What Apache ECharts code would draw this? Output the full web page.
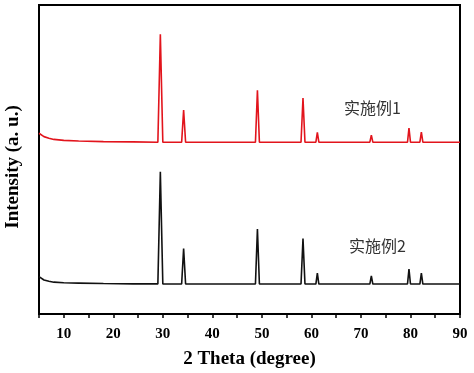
<!DOCTYPE html>
<html><head><meta charset="utf-8">
<script src="https://cdn.jsdelivr.net/npm/echarts@6/dist/echarts.min.js"></script>
<style>html,body{margin:0;padding:0;background:#fff}#c{width:474px;height:373px}</style>
</head><body><div id="c"></div>
<script>
// 2θ tick labels
const xTicks = [10, 20, 30, 40, 50, 60, 70, 80, 90];
// Series names
const seriesNames = ['实施例1', '实施例2'];
// 实施例1 (red, offset upper)
const sample1 = [[5,58.5],[6,57.4],[7,56.9],[8,56.5],[10,56.2],[13,56.0],[18,55.8],[24,55.7],[29.0,55.6],[29.5,90.5],[30.0,55.6],[33.8,55.6],[34.2,66.0],[34.6,55.6],[48.7,55.6],[49.1,72.4],[49.5,55.6],[57.9,55.6],[58.3,69.9],[58.7,55.6],[60.9,55.6],[61.2,58.8],[61.5,55.6],[71.8,55.6],[72.1,57.9],[72.4,55.6],[79.4,55.6],[79.7,60.2],[80.0,55.6],[81.9,55.6],[82.2,58.9],[82.5,55.6],[90,55.6]];
// 实施例2 (black, lower)
const sample2 = [[5,12.1],[6,11.0],[7,10.6],[8,10.3],[10,10.1],[13,10.0],[18,9.85],[24,9.75],[29.0,9.75],[29.5,46.0],[30.0,9.7],[33.8,9.7],[34.2,21.2],[34.6,9.7],[48.7,9.7],[49.1,27.5],[49.5,9.7],[57.9,9.7],[58.3,24.4],[58.7,9.7],[60.9,9.7],[61.2,13.2],[61.5,9.7],[71.8,9.7],[72.1,12.3],[72.4,9.7],[79.4,9.7],[79.7,14.5],[80.0,9.7],[81.9,9.7],[82.2,13.2],[82.5,9.7],[90,9.7]];
// label anchor points (data coords)
const labelPos = [[66.6, 66.7], [67.6, 22.0]];
const yTitle = 'Intensity (a. u.)';
const xTitle = '2 Theta (degree)';

const chart = echarts.init(document.getElementById('c'));
const serif = '"Liberation Serif","Times New Roman",serif';
chart.setOption({
  animation: false,
  grid: { left: 39, right: 14, top: 5, bottom: 59, outerBoundsMode: 'none', containLabel: false,
    show: true, borderColor: '#000', borderWidth: 2, backgroundColor: 'transparent' },
  xAxis: {
    type: 'value', min: 5, max: 90, interval: 5,
    name: xTitle, nameLocation: 'middle', nameGap: 36,
    nameTextStyle: { fontFamily: serif, fontWeight: 'bold', fontSize: 19, color: '#000' },
    axisLine: { show: true, lineStyle: { color: '#000', width: 2 } },
    axisTick: { show: true, inside: false, length: 4, lineStyle: { color: '#000', width: 1.5 } },
    axisLabel: { margin: 13, fontFamily: serif, fontWeight: 'bold', fontSize: 15, color: '#000',
      formatter: v => xTicks.indexOf(v) >= 0 ? String(v) : '' },
    splitLine: { show: false }
  },
  yAxis: {
    type: 'value', min: 0, max: 100,
    axisLine: { show: true, lineStyle: { color: '#000', width: 2 } },
    axisTick: { show: false }, axisLabel: { show: false }, splitLine: { show: false }
  },
  series: [
    { name: seriesNames[0], type: 'line', data: sample1, showSymbol: false, symbol: 'none',
      lineStyle: { color: '#e2141c', width: 1.6 } },
    { name: seriesNames[1], type: 'line', data: sample2, showSymbol: false, symbol: 'none',
      lineStyle: { color: '#111', width: 1.6 } }
  ]
});
const texts = labelPos.map((p, i) => {
  const px = chart.convertToPixel({ gridIndex: 0 }, p);
  return { type: 'text', x: px[0], y: px[1],
    style: { text: seriesNames[i], fill: '#333', font: '16px "Noto Sans CJK SC", sans-serif', verticalAlign: 'middle' } };
});
texts.push({ type: 'text', x: 13, y: 167, rotation: Math.PI / 2,
  style: { text: yTitle, fill: '#000', font: 'bold 19px ' + serif, align: 'center', verticalAlign: 'middle' } });
chart.setOption({ graphic: texts });
</script></body></html>
